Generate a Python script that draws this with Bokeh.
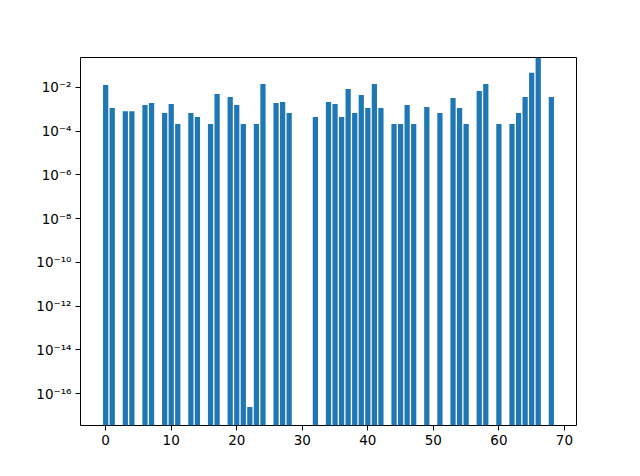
from bokeh.plotting import figure
from bokeh.models import Range1d, FixedTicker, CustomJSTickFormatter, ColumnDataSource
from bokeh.embed import file_html
from bokeh.resources import INLINE

# bar index positions and values
positions = [0, 1, 3, 4, 6, 7, 9, 10, 11, 13, 14, 16, 17, 19, 20, 21, 22, 23, 24,
             26, 27, 28, 32, 34, 35, 36, 37, 38, 39, 40, 41, 42, 44, 45, 46, 47,
             49, 51, 53, 54, 55, 57, 58, 60, 62, 63, 64, 65, 66, 68]
values = [1.28e-2, 1.12e-3, 8.1e-4, 8.1e-4, 1.55e-3, 1.9e-3, 6.6e-4, 1.7e-3, 2.1e-4,
          6.6e-4, 4.4e-4, 2.1e-4, 4.9e-3, 3.6e-3, 1.55e-3, 2.1e-4, 2.5e-17, 2.1e-4, 1.4e-2,
          1.9e-3, 2.1e-3, 6.6e-4, 4.4e-4, 2.1e-3, 1.7e-3, 4.4e-4, 8.4e-3, 6.6e-4, 4.4e-3,
          1.12e-3, 1.4e-2, 1.12e-3, 2.1e-4, 2.1e-4, 1.55e-3, 2.1e-4,
          1.25e-3, 6.6e-4, 3.2e-3, 1.12e-3, 2.1e-4, 6.8e-3, 1.4e-2, 2.1e-4, 2.1e-4, 6.6e-4,
          3.6e-3, 4.6e-2, 3.0e-1, 3.6e-3]
x_ticks = [0, 10, 20, 30, 40, 50, 60, 70]
y_ticks = [1e-16, 1e-14, 1e-12, 1e-10, 1e-8, 1e-6, 1e-4, 1e-2]

src = ColumnDataSource(dict(x=positions, top=values, bottom=[1e-30] * len(values)))

p = figure(width=624, height=460, y_axis_type="log", output_backend="svg",
           toolbar_location=None,
           x_range=Range1d(-3.84, 71.84), y_range=Range1d(10 ** -17.45, 10 ** -0.64),
           min_border_left=80, min_border_right=48, min_border_top=57, min_border_bottom=35)

p.vbar(x="x", top="top", bottom="bottom", width=0.8, source=src,
       fill_color="#1f77b4", line_color=None)

p.grid.visible = False
p.outline_line_color = "black"
p.outline_line_width = 1
p.background_fill_color = "white"
p.border_fill_color = "white"

p.xaxis.ticker = FixedTicker(ticks=x_ticks)
p.yaxis.ticker = FixedTicker(ticks=y_ticks)
p.yaxis.formatter = CustomJSTickFormatter(code="""
const sup = {'-':'\u207b','0':'\u2070','1':'\u00b9','2':'\u00b2','3':'\u00b3','4':'\u2074',
             '5':'\u2075','6':'\u2076','7':'\u2077','8':'\u2078','9':'\u2079'};
const e = Math.round(Math.log10(tick)).toString();
let s = '';
for (const c of e) { s += sup[c]; }
return '10' + s;
""")

for ax in (p.xaxis, p.yaxis):
    ax.major_label_text_font = "DejaVu Sans"
    ax.major_label_text_font_size = "13.5px"
    ax.major_label_text_color = "black"
    ax.axis_line_color = None
    ax.major_tick_line_color = "black"
    ax.major_tick_in = 0
    ax.major_tick_out = 5
    ax.minor_tick_line_color = None
    ax.major_label_standoff = 4

open("out.html", "w").write(file_html(p, INLINE))
